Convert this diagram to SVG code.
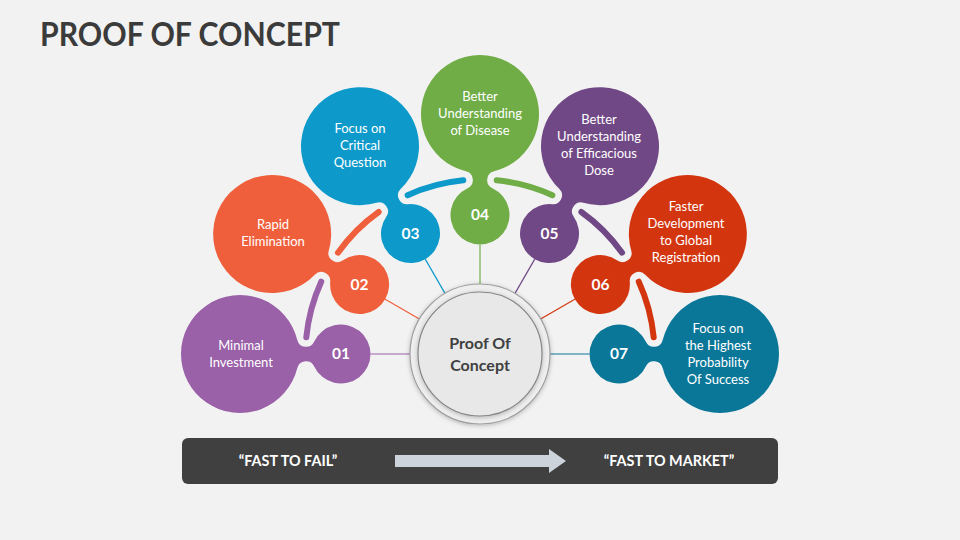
<svg xmlns="http://www.w3.org/2000/svg" width="960" height="540" viewBox="0 0 960 540">
<defs>
<path id="bubble" d="M 57.31 -14.03 A 59 59 0 1 0 57.31 14.03 A 9 9 0 0 1 74.22 12.39 A 29.5 29.5 0 1 0 74.22 -12.39 A 9 9 0 0 1 57.31 -14.03 Z"/>
<filter id="sh" x="-20%" y="-20%" width="140%" height="140%">
<feDropShadow dx="0" dy="1" stdDeviation="2" flood-color="#000" flood-opacity="0.25"/>
</filter>
<style>
.lbl{font-family:Lato,"Open Sans","Liberation Sans",sans-serif;font-size:13px;fill:#fff;text-anchor:middle}
.num{font-family:Lato,"Open Sans","Liberation Sans",sans-serif;font-size:15.5px;font-weight:bold;fill:#fff;text-anchor:middle}
.ln{stroke-width:1.2;fill:none}
.arc{stroke-width:6;fill:none;stroke-linecap:round}
.bar{font-family:Lato,"Open Sans","Liberation Sans",sans-serif;font-size:14.4px;font-weight:bold;fill:#fff;text-anchor:middle}
</style>
</defs>
<rect width="960" height="540" fill="#F2F2F2"/>
<text x="40" y="46" font-family="Lato,'Open Sans','Liberation Sans',sans-serif" font-size="33" font-weight="bold" fill="#3B3B3B" textLength="300" lengthAdjust="spacingAndGlyphs">PROOF OF CONCEPT</text>

<g id="connectors">
<line class="ln" x1="410" y1="354" x2="370.5" y2="354" stroke="#9A60A8"/>
<line class="ln" x1="419.38" y1="319" x2="385.17" y2="299.25" stroke="#F05F3B"/>
<line class="ln" x1="445" y1="293.38" x2="425.25" y2="259.17" stroke="#0D9ACB"/>
<line class="ln" x1="480" y1="284" x2="480" y2="244.5" stroke="#70AD47"/>
<line class="ln" x1="515" y1="293.38" x2="534.75" y2="259.17" stroke="#714886"/>
<line class="ln" x1="540.62" y1="319" x2="574.83" y2="299.25" stroke="#D3360F"/>
<line class="ln" x1="550" y1="354" x2="589.5" y2="354" stroke="#0A7799"/>
<path class="arc" d="M 306.30 337.27 A 174.5 174.5 0 0 1 321.21 281.64" stroke="#9A60A8"/>
<path class="arc" d="M 337.94 252.67 A 174.5 174.5 0 0 1 378.67 211.94" stroke="#F05F3B"/>
<path class="arc" d="M 407.64 195.21 A 174.5 174.5 0 0 1 463.27 180.30" stroke="#0D9ACB"/>
<path class="arc" d="M 496.73 180.30 A 174.5 174.5 0 0 1 552.36 195.21" stroke="#70AD47"/>
<path class="arc" d="M 581.33 211.94 A 174.5 174.5 0 0 1 622.06 252.67" stroke="#714886"/>
<path class="arc" d="M 638.79 281.64 A 174.5 174.5 0 0 1 653.70 337.27" stroke="#D3360F"/>
</g>

<g id="center">
<circle cx="480" cy="354" r="70" fill="#EEEEEE" stroke="#A0A0A0" stroke-width="1.2" filter="url(#sh)"/>
<circle cx="480" cy="354" r="62" fill="#E8E8E8" stroke="#858585" stroke-width="1.2" filter="url(#sh)"/>
<text x="480" y="349" font-family="Lato,'Open Sans','Liberation Sans',sans-serif" font-size="16" font-weight="bold" fill="#404040" text-anchor="middle">Proof Of</text>
<text x="480" y="371" font-family="Lato,'Open Sans','Liberation Sans',sans-serif" font-size="16" font-weight="bold" fill="#404040" text-anchor="middle">Concept</text>
</g>

<g id="node-01">
<use href="#bubble" transform="translate(240 354) rotate(0)" fill="#9A60A8"/>
<text class="lbl" x="241" y="350">Minimal</text>
<text class="lbl" x="241" y="367">Investment</text>
<text class="num" x="341" y="359">01</text>
</g>
<g id="node-02">
<use href="#bubble" transform="translate(272.15 234) rotate(30)" fill="#F05F3B"/>
<text class="lbl" x="273" y="229">Rapid</text>
<text class="lbl" x="273" y="246">Elimination</text>
<text class="num" x="359.6" y="289.5">02</text>
</g>
<g id="node-03">
<use href="#bubble" transform="translate(360 146.15) rotate(60)" fill="#0D9ACB"/>
<text class="lbl" x="360" y="133">Focus on</text>
<text class="lbl" x="360" y="150">Critical</text>
<text class="lbl" x="360" y="167">Question</text>
<text class="num" x="410.5" y="238.6">03</text>
</g>
<g id="node-04">
<use href="#bubble" transform="translate(480 114) rotate(90)" fill="#70AD47"/>
<text class="lbl" x="480" y="101">Better</text>
<text class="lbl" x="480" y="118">Understanding</text>
<text class="lbl" x="480" y="135">of Disease</text>
<text class="num" x="480" y="220">04</text>
</g>
<g id="node-05">
<use href="#bubble" transform="translate(600 146.15) rotate(120)" fill="#714886"/>
<text class="lbl" x="599" y="124">Better</text>
<text class="lbl" x="599" y="141">Understanding</text>
<text class="lbl" x="599" y="158">of Efficacious</text>
<text class="lbl" x="599" y="175">Dose</text>
<text class="num" x="549.5" y="238.6">05</text>
</g>
<g id="node-06">
<use href="#bubble" transform="translate(687.85 234) rotate(150)" fill="#D3360F"/>
<text class="lbl" x="686" y="211">Faster</text>
<text class="lbl" x="686" y="228">Development</text>
<text class="lbl" x="686" y="245">to Global</text>
<text class="lbl" x="686" y="262">Registration</text>
<text class="num" x="600.4" y="289.5">06</text>
</g>
<g id="node-07">
<use href="#bubble" transform="translate(720 354) rotate(180)" fill="#0A7799"/>
<text class="lbl" x="718" y="333">Focus on</text>
<text class="lbl" x="718" y="350">the Highest</text>
<text class="lbl" x="718" y="367">Probability</text>
<text class="lbl" x="718" y="384">Of Success</text>
<text class="num" x="619" y="359">07</text>
</g>

<g id="bottom-bar">
<rect x="182" y="438" width="596" height="46" rx="6" fill="#404040"/>
<text class="bar" x="288" y="466">“FAST TO FAIL”</text>
<text class="bar" x="669" y="466">“FAST TO MARKET”</text>
<path d="M 395 455 L 549 455 L 549 449 L 566 461 L 549 473 L 549 467 L 395 467 Z" fill="#CDD3DA"/>
</g>
</svg>
